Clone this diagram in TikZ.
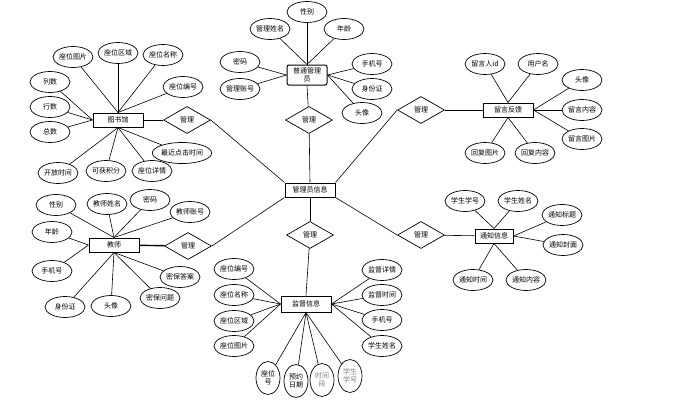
\documentclass[tikz,border=0pt]{standalone}
\usepackage{fontspec}
\setmainfont{Noto Sans CJK SC}
\usetikzlibrary{shapes.geometric}

\begin{document}
\begin{tikzpicture}[x=1pt,y=-1pt,
  attr/.style={ellipse,draw,line width=0.7pt,minimum width=40pt,minimum height=21pt,inner sep=0pt,font=\fontsize{7}{8}\selectfont},
  vattr/.style={attr,minimum width=24pt,minimum height=33pt,text width=15pt,align=center},
  entity/.style={rectangle,draw,line width=1pt,minimum width=50pt,minimum height=14pt,inner sep=1pt,font=\fontsize{7}{8}\selectfont},
  rel/.style={diamond,draw,line width=0.7pt,minimum width=47pt,minimum height=27pt,inner sep=0pt,font=\fontsize{7}{8}\selectfont},
  link/.style={line width=0.6pt}]
  \useasboundingbox (0,0) rectangle (686,402);

  % Zentrale
  \node[entity] (info) at (310,190) {管理员信息};

  % Bibliothek
  \node[entity] (lib) at (118,120) {图书馆};
  \node[rel] (libRel) at (187,120) {管理};
  \node[attr] (libPic) at (73,57) {座位图片};
  \node[attr] (libArea) at (118,53) {座位区域};
  \node[attr] (libName) at (163,55) {座位名称};
  \node[attr] (libNo) at (183,87) {座位编号};
  \node[attr] (libCols) at (50,82) {列数};
  \node[attr] (libRows) at (50,107) {行数};
  \node[attr] (libTotal) at (50,132) {总数};
  \node[attr] (libOpen) at (58,173) {开放时间};
  \node[attr] (libPoints) at (106,171) {可获积分};
  \node[attr] (libDetail) at (152,171) {座位详情};
  \node[attr] (libClick) at (182,153) {最近点击时间};
  \foreach \a in {libPic,libArea,libName,libNo} \draw[link] (\a) -- (lib.north);
  \foreach \a in {libCols,libRows,libTotal} \draw[link] (\a) -- (lib.west);
  \foreach \a in {libOpen,libPoints,libDetail,libClick} \draw[link] (\a) -- (lib.south);
  \draw[link] (lib) -- (libRel);
  \draw[link] (libRel.east) -- (info.north west);

  % Admin
  \node[entity,rounded corners=2pt,minimum width=40pt,minimum height=20pt,align=center] (admin) at (307,75) {普通管理\\员};
  \node[rel] (adminRel) at (309,120) {管理};
  \node[attr] (adminSex) at (307,12) {性别};
  \node[attr] (adminName) at (270,29) {管理姓名};
  \node[attr] (adminAge) at (344,29) {年龄};
  \node[attr] (adminPwd) at (240,62) {密码};
  \node[attr] (adminAcc) at (240,89) {管理账号};
  \node[attr] (adminTel) at (372,64) {手机号};
  \node[attr] (adminId) at (372,89) {身份证};
  \node[attr] (adminAvatar) at (362,113) {头像};
  \foreach \a in {adminSex,adminName,adminAge} \draw[link] (\a) -- (admin.north);
  \foreach \a in {adminPwd,adminAcc} \draw[link] (\a) -- (admin.west);
  \foreach \a in {adminTel,adminId,adminAvatar} \draw[link] (\a) -- (admin.east);
  \draw[link] (admin.south) -- (adminRel);
  \draw[link] (adminRel) -- (info.north);

  % Feedback
  \node[entity] (fb) at (508,110) {留言反馈};
  \node[rel] (fbRel) at (421,110) {管理};
  \node[attr] (fbUser) at (485,64) {留言人id};
  \node[attr] (fbName) at (538,64) {用户名};
  \node[attr] (fbAvatar) at (582,80) {头像};
  \node[attr] (fbContent) at (582,110) {留言内容};
  \node[attr] (fbPic) at (582,139) {留言图片};
  \node[attr] (fbReplyPic) at (485,153) {回复图片};
  \node[attr] (fbReplyText) at (535,153) {回复内容};
  \foreach \a in {fbUser,fbName} \draw[link] (\a) -- (fb.north);
  \foreach \a in {fbAvatar,fbContent,fbPic} \draw[link] (\a) -- (fb.east);
  \foreach \a in {fbReplyPic,fbReplyText} \draw[link] (\a) -- (fb.south);
  \draw[link] (fbRel) -- (fb);
  \draw[link] (fbRel.west) -- (info.north east);

  % Lehrer
  \node[entity] (tea) at (114,245) {教师};
  \node[rel] (teaRel) at (188,246) {管理};
  \node[attr] (teaSex) at (56,205) {性别};
  \node[attr] (teaName) at (107,204) {教师姓名};
  \node[attr] (teaPwd) at (150,200) {密码};
  \node[attr] (teaAcc) at (190,212) {教师账号};
  \node[attr] (teaAge) at (52,232) {年龄};
  \node[attr] (teaTel) at (52,271) {手机号};
  \node[attr] (teaId) at (65,307) {身份证};
  \node[attr] (teaAvatar) at (111,306) {头像};
  \node[attr] (teaQ) at (160,298) {密保问题};
  \node[attr] (teaA) at (180,277) {密保答案};
  \foreach \a in {teaSex,teaName,teaPwd,teaAcc} \draw[link] (\a) -- (tea.north);
  \foreach \a in {teaAge,teaTel} \draw[link] (\a) -- (tea.west);
  \foreach \a in {teaId,teaAvatar,teaQ,teaA} \draw[link] (\a) -- (tea.south);
  \draw[line width=1.4pt] (tea) -- (teaRel);
  \draw[link] (teaRel.east) -- (info.south west);

  % Benachrichtigung
  \node[entity,minimum width=38pt] (note) at (494,236) {通知信息};
  \node[rel] (noteRel) at (421,235) {管理};
  \node[attr] (noteNo) at (465,201) {学生学号};
  \node[attr] (noteName) at (518,201) {学生姓名};
  \node[attr] (noteTitle) at (562,215) {通知标题};
  \node[attr] (noteCover) at (563,245) {通知封面};
  \node[attr] (noteTime) at (473,280) {通知时间};
  \node[attr] (noteText) at (526,280) {通知内容};
  \foreach \a in {noteNo,noteName} \draw[link] (\a) -- (note.north);
  \foreach \a in {noteTitle,noteCover} \draw[link] (\a) -- (note.east);
  \foreach \a in {noteTime,noteText} \draw[link] (\a) -- (note.south);
  \draw[link] (noteRel) -- (note);
  \draw[link] (noteRel.west) -- (info.south east);

  % Aufsicht
  \node[entity,minimum height=16pt] (mon) at (306,304) {监督信息};
  \node[rel] (monRel) at (310,235) {管理};
  \node[attr] (monSeatNo) at (234,269) {座位编号};
  \node[attr] (monSeatName) at (234,295) {座位名称};
  \node[attr] (monSeatArea) at (234,321) {座位区域};
  \node[attr] (monSeatPic) at (234,346) {座位图片};
  \node[attr] (monDetail) at (382,270) {监督详情};
  \node[attr] (monTime) at (382,295) {监督时间};
  \node[attr] (monTel) at (382,320) {手机号};
  \node[attr] (monStuName) at (382,346) {学生姓名};
  \node[vattr] (monSeat) at (268,378) {座位\\号};
  \node[vattr] (monDate) at (296,381) {预约\\日期};
  \node[vattr,text=gray] (monSlot) at (322,380) {时间\\段};
  \node[vattr,text=gray] (monStuNo) at (350,376) {学生\\学号};
  \foreach \a in {monSeatNo,monSeatName,monSeatArea,monSeatPic} \draw[link] (\a) -- (mon.west);
  \foreach \a in {monDetail,monTime,monTel,monStuName} \draw[link] (\a) -- (mon.east);
  \foreach \a in {monSeat,monDate,monSlot,monStuNo} \draw[link] (\a) -- (mon.south);
  \draw[link] (info.south) -- (monRel);
  \draw[link] (monRel) -- (mon.north);
\end{tikzpicture}
\end{document}
